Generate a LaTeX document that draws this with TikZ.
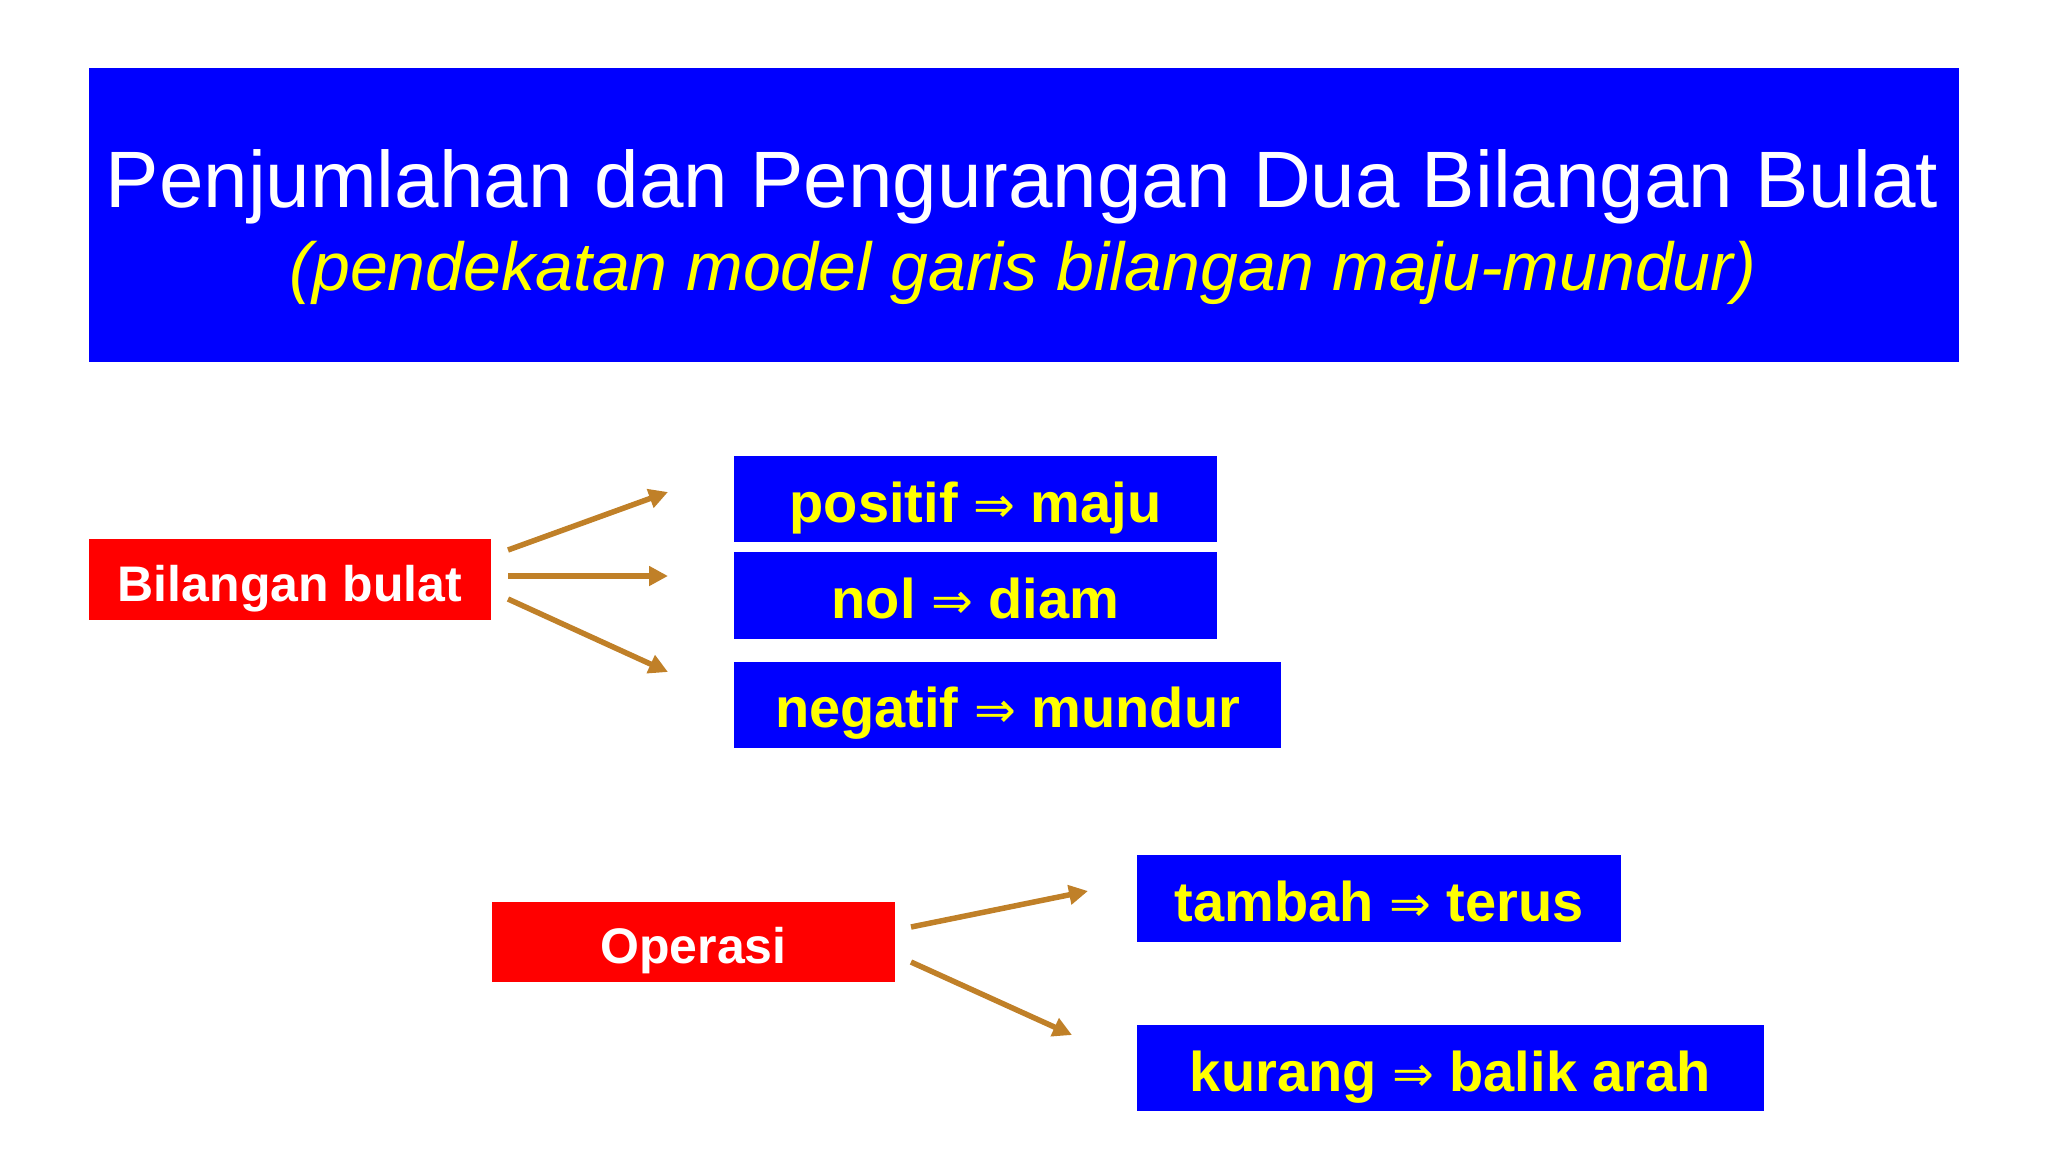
\documentclass[tikz,border=0pt]{standalone}
\usepackage{fontspec}
\setmainfont{Liberation Sans}
\newfontfamily\djvfont{DejaVu Sans}
\usetikzlibrary{arrows.meta,fit}
\definecolor{bblue}{RGB}{0,0,255}
\definecolor{rred}{RGB}{255,0,0}
\definecolor{yyel}{RGB}{255,255,0}
\definecolor{arrc}{RGB}{192,128,40}
\newcommand{\arrimp}{{\djvfont\mdseries\fontsize{50}{50}\selectfont ⇒}}
\tikzset{
  bluebox/.style={fill=bblue, draw=none, inner sep=0pt, outer sep=0pt},
  redbox/.style={fill=rred, draw=none, inner sep=0pt, outer sep=0pt},
  ylbl/.style={anchor=base, text=yyel, inner sep=0pt, font=\fontsize{56}{56}\selectfont\bfseries},
  wlbl/.style={anchor=base, text=white, inner sep=0pt, font=\fontsize{50}{50}\selectfont\bfseries},
  conn/.style={draw=arrc, line width=5.5pt, -{Triangle[length=19pt,width=19pt]}},
}
\begin{document}
\begin{tikzpicture}[x=1pt,y=-1pt]
\useasboundingbox (0,0) rectangle (2048,1152);
% title
\node[bluebox, fit={(89,68)(1959,362)}] (title) {};
\node[anchor=base, text=white, inner sep=0pt, font=\fontsize{80}{80}\selectfont] (t1) at (1022,207) {Penjumlahan dan Pengurangan Dua Bilangan Bulat};
\node[anchor=base, text=yyel, inner sep=0pt, font=\fontsize{68}{68}\selectfont\itshape] (t2) at (1023,290) {(pendekatan model garis bilangan maju-mundur)};
% bilangan bulat
\node[redbox, fit={(89,539)(491,620)}] (bb) {};
\node[wlbl] (bbt) at (290,601) {Bilangan bulat};
\node[bluebox, fit={(734,456)(1217,542)}] (pos) {};
\node[ylbl] (post) at (975.5,522) {positif \arrimp\ maju};
\node[bluebox, fit={(734,552)(1217,639)}] (nol) {};
\node[ylbl] (nolt) at (975.5,618) {nol \arrimp\ diam};
\node[bluebox, fit={(734,662)(1281,748)}] (neg) {};
\node[ylbl] (negt) at (1007.5,727) {negatif \arrimp\ mundur};
% operasi
\node[redbox, fit={(492,902)(895,982)}] (op) {};
\node[wlbl] (opt) at (693.5,963) {Operasi};
\node[bluebox, fit={(1137,855)(1621,942)}] (tam) {};
\node[ylbl] (tamt) at (1379,921) {tambah \arrimp\ terus};
\node[bluebox, fit={(1137,1025)(1764,1111)}] (kur) {};
\node[ylbl] (kurt) at (1450.5,1091) {kurang \arrimp\ balik arah};
% connector ends
\coordinate (a1s) at (508,550); \coordinate (a1e) at (668,492);
\coordinate (a2s) at (508,576); \coordinate (a2e) at (668,576);
\coordinate (a3s) at (508,599); \coordinate (a3e) at (668,672);
\coordinate (o1s) at (911,927); \coordinate (o1e) at (1088,891);
\coordinate (o2s) at (911,962); \coordinate (o2e) at (1072,1035);
\draw[conn] (a1s) -- (a1e);
\draw[conn] (a2s) -- (a2e);
\draw[conn] (a3s) -- (a3e);
\draw[conn] (o1s) -- (o1e);
\draw[conn] (o2s) -- (o2e);
\end{tikzpicture}
\end{document}
